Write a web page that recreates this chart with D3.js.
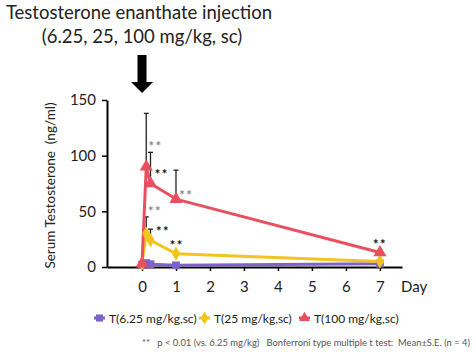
<!DOCTYPE html>
<html>
<head>
<meta charset="utf-8">
<script src="https://cdn.jsdelivr.net/npm/d3@7"></script>
<style>
  html, body { margin: 0; padding: 0; background: #fff; }
  svg { display: block; font-family: Lato, "Open Sans", sans-serif; }
</style>
</head>
<body>
<svg id="chart" width="474" height="355"></svg>
<script>
// ---- data ----
const days = [0, 0.125, 0.25, 1, 7];
const seriesNames = ["T(6.25 mg/kg,sc)", "T(25 mg/kg,sc)", "T(100 mg/kg,sc)"];
const lowValues  = [2, 3.5, 2.5, 1.5, 3];
const midValues  = [3, 30, 24, 12, 5];
const highValues = [3, 90, 75, 61, 13];
const lowErr  = [0, 0, 0, 0, 0];
const midErr  = [0, 15, 10, 0, 0];
const highErr = [0, 48, 28, 26, 0];
const xTicks = [0, 1, 2, 3, 4, 5, 6, 7];
const yTicks = [0, 50, 100, 150];
// significance marks (placed in data space: day, value)
const sigDays   = [0.4, 0.58, 1.3, 0.38, 0.62, 1.02, 7.0];
const sigValues = [110, 84, 66, 51, 33, 21, 22];
const sigDark   = [false, true, false, false, true, true, true];

const colors = ["#7d62c8", "#f3c31f", "#e9505f"];
const shapes = [d3.symbolSquare, d3.symbolDiamond, d3.symbolTriangle];
const series = [
  {name: seriesNames[0], values: lowValues, err: lowErr},
  {name: seriesNames[1], values: midValues, err: midErr},
  {name: seriesNames[2], values: highValues, err: highErr}
];

const svg = d3.select("#chart");
const x = d3.scaleLinear().domain([-1.03, 7.65]).range([107, 402]);
const y = d3.scaleLinear().domain([0, 150]).range([267, 100]);

// Title
svg.append("text").attr("x", 139).attr("y", 19).attr("text-anchor", "middle")
  .attr("font-size", 18.5).attr("fill", "#222").text("Testosterone enanthate injection");
svg.append("text").attr("x", 142).attr("y", 43).attr("text-anchor", "middle")
  .attr("font-size", 18.5).attr("fill", "#222").text("(6.25, 25, 100 mg/kg, sc)");

// Arrow at day 0
const ax = x(0);
svg.append("path")
  .attr("d", `M${ax-4.5},55 L${ax+4.5},55 L${ax+4.5},82 L${ax+11},82 L${ax},93 L${ax-11},82 L${ax-4.5},82 Z`)
  .attr("fill", "#000");

// Axes
const xAxis = svg.append("g").attr("transform", `translate(0,${y(0)})`)
  .call(d3.axisBottom(x).tickValues(xTicks).tickSize(4).tickPadding(10).tickSizeOuter(0));
xAxis.select(".domain").attr("stroke-width", 2);
xAxis.selectAll(".tick line").attr("stroke-width", 1.5);
xAxis.selectAll("text").attr("font-size", 15).attr("fill", "#222").attr("font-family", "Lato, sans-serif");

const yAxis = svg.append("g").attr("transform", `translate(${x(-1.03)},0)`)
  .call(d3.axisLeft(y).tickValues(yTicks).tickSize(5).tickPadding(6).tickSizeOuter(0));
yAxis.select(".domain").attr("stroke-width", 2);
yAxis.selectAll(".tick line").attr("stroke-width", 1.5);
yAxis.selectAll("text").attr("font-size", 15).attr("fill", "#222").attr("font-family", "Lato, sans-serif");

svg.append("text").attr("x", 401).attr("y", 292).attr("font-size", 15).attr("fill", "#222").text("Day");

// Y label
svg.append("text")
  .attr("transform", `translate(55,${(y(0)+y(150))/2 + 2}) rotate(-90)`)
  .attr("text-anchor", "middle").attr("font-size", 13.5).attr("fill", "#222")
  .attr("xml:space", "preserve")
  .text("Serum Testosterone  (ng/ml)");

// Error bars
series.forEach((s, i) => {
  const g = svg.append("g");
  days.forEach((d, j) => {
    if (s.err[j] > 0) {
      const top = y(s.values[j] + s.err[j]);
      g.append("line").attr("x1", x(d)).attr("x2", x(d))
        .attr("y1", y(s.values[j])).attr("y2", top)
        .attr("stroke", "#222").attr("stroke-width", 1.3);
      g.append("line").attr("x1", x(d) - 2.5).attr("x2", x(d) + 2.5)
        .attr("y1", top).attr("y2", top)
        .attr("stroke", "#222").attr("stroke-width", 1.3);
    }
  });
});

// Lines and markers
const line = d3.line().x((d, j) => x(days[j])).y(d => y(d));
series.forEach((s, i) => {
  svg.append("path").datum(s.values).attr("d", line)
    .attr("fill", "none").attr("stroke", colors[i]).attr("stroke-width", 3)
    .attr("stroke-linejoin", "round");
});
series.forEach((s, i) => {
  svg.append("g").selectAll("path").data(s.values).join("path")
    .attr("transform", (d, j) => `translate(${x(days[j])},${y(d)})`)
    .attr("d", d3.symbol().type(shapes[i]).size(i === 2 ? 75 : 60))
    .attr("fill", colors[i]);
});

// Significance marks
sigDays.forEach((d, k) => {
  svg.append("text").attr("x", x(d)).attr("y", y(sigValues[k]) + 6)
    .attr("text-anchor", "middle").attr("font-size", 13).attr("font-weight", "bold")
    .attr("letter-spacing", 1.5)
    .attr("fill", sigDark[k] ? "#111" : "#888").text("**");
});

// Legend
const legendX = [94, 199, 299];
series.forEach((s, i) => {
  const g = svg.append("g").attr("transform", `translate(${legendX[i]},318)`);
  g.append("line").attr("x1", 0).attr("x2", 11).attr("y1", 0).attr("y2", 0)
    .attr("stroke", colors[i]).attr("stroke-width", 3);
  g.append("path").attr("transform", "translate(5.5,0)")
    .attr("d", d3.symbol().type(shapes[i]).size(50)).attr("fill", colors[i]);
  g.append("text").attr("x", 15).attr("y", 4.5).attr("font-size", 12).attr("fill", "#222").text(s.name);
});

// Footnote
svg.append("text").attr("x", 470).attr("y", 346).attr("font-size", 9.4).attr("fill", "#555")
  .attr("text-anchor", "end")
  .attr("xml:space", "preserve")
  .text("**   p < 0.01 (vs. 6.25 mg/kg)   Bonferroni type multiple t test:  Mean\u00B1S.E. (n = 4)");
</script>
</body>
</html>
